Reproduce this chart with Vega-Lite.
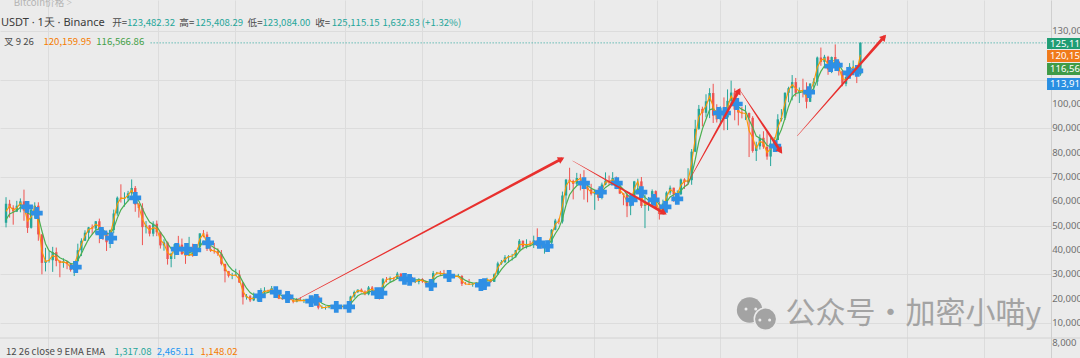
{
"$schema": "https://vega.github.io/schema/vega-lite/v6.json",
"width": 1051, "height": 358,
"autosize": {"type": "none"},
"padding": {"left": 0, "top": 0, "bottom": 0, "right": 29},
"background": "#ebebeb",
"config": {"view": {"stroke": null}, "font": "Noto Sans CJK SC", "axis": {"gridColor": "#dcdcdc", "gridWidth": 1}},
"resolve": {"scale": {"color": "independent", "size": "independent", "angle": "independent"}},
"datasets": {
"candles": [
{"d":"2021-03-11","o":51200,"h":61700,"l":49300,"c":59000,"e9":55900,"e26":52500},
{"d":"2021-03-18","o":59000,"h":60600,"l":53300,"c":57400,"e9":58000,"e26":54800},
{"d":"2021-03-25","o":57400,"h":58400,"l":50400,"c":55800,"e9":56400,"e26":55500},
{"d":"2021-04-01","o":55800,"h":60200,"l":55600,"c":58200,"e9":57200,"e26":56200},
{"d":"2021-04-08","o":58200,"h":61200,"l":55500,"c":60000,"e9":59300,"e26":57500},
{"d":"2021-04-15","o":60000,"h":64800,"l":52000,"c":56200,"e9":57700,"e26":57600},
{"d":"2021-04-22","o":56200,"h":57500,"l":47000,"c":49100,"e9":51900,"e26":55200},
{"d":"2021-04-29","o":49100,"h":58400,"l":48800,"c":56600,"e9":53600,"e26":54500},
{"d":"2021-05-06","o":56600,"h":59600,"l":53000,"c":58200,"e9":57600,"e26":55800},
{"d":"2021-05-13","o":58200,"h":59600,"l":43800,"c":46400,"e9":51100,"e26":53800},
{"d":"2021-05-20","o":46400,"h":46600,"l":30000,"c":34700,"e9":39400,"e26":47800},
{"d":"2021-05-27","o":34700,"h":40900,"l":31200,"c":35700,"e9":35300,"e26":42600},
{"d":"2021-06-03","o":35700,"h":39500,"l":34800,"c":35800,"e9":35800,"e26":39700},
{"d":"2021-06-10","o":35800,"h":41300,"l":31000,"c":39100,"e9":37800,"e26":38900},
{"d":"2021-06-17","o":39100,"h":41000,"l":33300,"c":35500,"e9":36900,"e26":38100},
{"d":"2021-06-24","o":35500,"h":35800,"l":28800,"c":34700,"e9":35000,"e26":36800},
{"d":"2021-07-01","o":34700,"h":36600,"l":32700,"c":35300,"e9":35100,"e26":36100},
{"d":"2021-07-08","o":35300,"h":35400,"l":32100,"c":34200,"e9":34600,"e26":35500},
{"d":"2021-07-15","o":34200,"h":34700,"l":31100,"c":31800,"e9":32800,"e26":34400},
{"d":"2021-07-22","o":31800,"h":34500,"l":29300,"c":35400,"e9":34000,"e26":34200},
{"d":"2021-07-29","o":35400,"h":42600,"l":35200,"c":39900,"e9":38100,"e26":35800},
{"d":"2021-08-05","o":39900,"h":44800,"l":37500,"c":43800,"e9":42200,"e26":38500},
{"d":"2021-08-12","o":43800,"h":48100,"l":43700,"c":47100,"e9":45800,"e26":41600},
{"d":"2021-08-19","o":47100,"h":49500,"l":43900,"c":49300,"e9":48400,"e26":44500},
{"d":"2021-08-26","o":49300,"h":50500,"l":46300,"c":48800,"e9":49000,"e26":46400},
{"d":"2021-09-02","o":48800,"h":51900,"l":46600,"c":51800,"e9":50600,"e26":48200},
{"d":"2021-09-09","o":51800,"h":52900,"l":42800,"c":48300,"e9":49700,"e26":48800},
{"d":"2021-09-16","o":48300,"h":48800,"l":44100,"c":47300,"e9":47700,"e26":48300},
{"d":"2021-09-23","o":47300,"h":47300,"l":39600,"c":43200,"e9":44800,"e26":46800},
{"d":"2021-09-30","o":43200,"h":48400,"l":40800,"c":48200,"e9":46200,"e26":46500},
{"d":"2021-10-07","o":48200,"h":56600,"l":46900,"c":55000,"e9":52300,"e26":48900},
{"d":"2021-10-14","o":55000,"h":62000,"l":54100,"c":61500,"e9":58900,"e26":53100},
{"d":"2021-10-21","o":61500,"h":67000,"l":59500,"c":61100,"e9":61300,"e26":56500},
{"d":"2021-10-28","o":61100,"h":63700,"l":57800,"c":61300,"e9":61200,"e26":58500},
{"d":"2021-11-04","o":61300,"h":64300,"l":60000,"c":63300,"e9":62500,"e26":60200},
{"d":"2021-11-11","o":63300,"h":69000,"l":62300,"c":65500,"e9":64600,"e26":62000},
{"d":"2021-11-18","o":65500,"h":66300,"l":55700,"c":58700,"e9":61400,"e26":61700},
{"d":"2021-11-25","o":58700,"h":59300,"l":53300,"c":57300,"e9":57900,"e26":60100},
{"d":"2021-12-02","o":57300,"h":59200,"l":42000,"c":49400,"e9":52600,"e26":57000},
{"d":"2021-12-09","o":49400,"h":51900,"l":46800,"c":50100,"e9":49800,"e26":54000},
{"d":"2021-12-16","o":50100,"h":50200,"l":45600,"c":46700,"e9":48100,"e26":51500},
{"d":"2021-12-23","o":46700,"h":51800,"l":45600,"c":50800,"e9":49200,"e26":50500},
{"d":"2021-12-30","o":50800,"h":52100,"l":45700,"c":47300,"e9":48700,"e26":49700},
{"d":"2022-01-06","o":47300,"h":47600,"l":40600,"c":41900,"e9":44100,"e26":47300},
{"d":"2022-01-13","o":41900,"h":44400,"l":39700,"c":43100,"e9":42600,"e26":45300},
{"d":"2022-01-20","o":43100,"h":43500,"l":34000,"c":36300,"e9":39000,"e26":42700},
{"d":"2022-01-27","o":36300,"h":38900,"l":32900,"c":38500,"e9":37600,"e26":40600},
{"d":"2022-02-03","o":38500,"h":42600,"l":36300,"c":42400,"e9":40800,"e26":40700},
{"d":"2022-02-10","o":42400,"h":45800,"l":41700,"c":42200,"e9":42300,"e26":41400},
{"d":"2022-02-17","o":42200,"h":44700,"l":38000,"c":38300,"e9":39900,"e26":40800},
{"d":"2022-02-24","o":38300,"h":39800,"l":34300,"c":37700,"e9":37900,"e26":39600},
{"d":"2022-03-03","o":37700,"h":45400,"l":37500,"c":38400,"e9":38100,"e26":39000},
{"d":"2022-03-10","o":38400,"h":42600,"l":37200,"c":37800,"e9":38000,"e26":38600},
{"d":"2022-03-17","o":37800,"h":42300,"l":37600,"c":41300,"e9":39900,"e26":39100},
{"d":"2022-03-24","o":41300,"h":46900,"l":40500,"c":46800,"e9":44600,"e26":41400},
{"d":"2022-03-31","o":46800,"h":48200,"l":45200,"c":46400,"e9":46600,"e26":43600},
{"d":"2022-04-07","o":46400,"h":47500,"l":39600,"c":40400,"e9":42800,"e26":43300},
{"d":"2022-04-14","o":40400,"h":41600,"l":39200,"c":39700,"e9":40000,"e26":41900},
{"d":"2022-04-21","o":39700,"h":42900,"l":38500,"c":39500,"e9":39600,"e26":40900},
{"d":"2022-04-28","o":39500,"h":40700,"l":37600,"c":38500,"e9":38900,"e26":40100},
{"d":"2022-05-05","o":38500,"h":40000,"l":33700,"c":34300,"e9":36000,"e26":38400},
{"d":"2022-05-12","o":34300,"h":34300,"l":26700,"c":31300,"e9":32500,"e26":35900},
{"d":"2022-05-19","o":31300,"h":31400,"l":28700,"c":29400,"e9":30200,"e26":33500},
{"d":"2022-05-26","o":29400,"h":30600,"l":28000,"c":29500,"e9":29500,"e26":31800},
{"d":"2022-06-02","o":29500,"h":32300,"l":29300,"c":29900,"e9":29700,"e26":30900},
{"d":"2022-06-09","o":29900,"h":31700,"l":26500,"c":26600,"e9":27900,"e26":29600},
{"d":"2022-06-16","o":26600,"h":26900,"l":17600,"c":20600,"e9":23000,"e26":26800},
{"d":"2022-06-23","o":20600,"h":21900,"l":19600,"c":21000,"e9":20800,"e26":24300},
{"d":"2022-06-30","o":21000,"h":21500,"l":18600,"c":19300,"e9":20000,"e26":22500},
{"d":"2022-07-07","o":19300,"h":22500,"l":19000,"c":20800,"e9":20200,"e26":21500},
{"d":"2022-07-14","o":20800,"h":21000,"l":18900,"c":20800,"e9":20800,"e26":21200},
{"d":"2022-07-21","o":20800,"h":24300,"l":20800,"c":22600,"e9":21900,"e26":21500},
{"d":"2022-07-28","o":22600,"h":24700,"l":20700,"c":23300,"e9":23000,"e26":22100},
{"d":"2022-08-04","o":23300,"h":23700,"l":22400,"c":23200,"e9":23200,"e26":22600},
{"d":"2022-08-11","o":23200,"h":25200,"l":22700,"c":24300,"e9":23900,"e26":23100},
{"d":"2022-08-18","o":24300,"h":24400,"l":20800,"c":21500,"e9":22600,"e26":22900},
{"d":"2022-08-25","o":21500,"h":21800,"l":19800,"c":20000,"e9":20600,"e26":21900},
{"d":"2022-09-01","o":20000,"h":20600,"l":19600,"c":19800,"e9":19900,"e26":21100},
{"d":"2022-09-08","o":19800,"h":22800,"l":18500,"c":21800,"e9":21000,"e26":21100},
{"d":"2022-09-15","o":21800,"h":22700,"l":19300,"c":19400,"e9":20400,"e26":20800},
{"d":"2022-09-22","o":19400,"h":19900,"l":18100,"c":18800,"e9":19000,"e26":20000},
{"d":"2022-09-29","o":18800,"h":20300,"l":18500,"c":19300,"e9":19100,"e26":19600},
{"d":"2022-10-06","o":19300,"h":20500,"l":19000,"c":19100,"e9":19200,"e26":19400},
{"d":"2022-10-13","o":19100,"h":19900,"l":18200,"c":19200,"e9":19200,"e26":19300},
{"d":"2022-10-20","o":19200,"h":19700,"l":18900,"c":19600,"e9":19400,"e26":19300},
{"d":"2022-10-27","o":19600,"h":21000,"l":19200,"c":20800,"e9":20300,"e26":19700},
{"d":"2022-11-03","o":20800,"h":21500,"l":20000,"c":21000,"e9":20900,"e26":20200},
{"d":"2022-11-10","o":21000,"h":21000,"l":15600,"c":16300,"e9":18200,"e26":19400},
{"d":"2022-11-17","o":16300,"h":17200,"l":15800,"c":16300,"e9":16300,"e26":18100},
{"d":"2022-11-24","o":16300,"h":16800,"l":15500,"c":16400,"e9":16400,"e26":17400},
{"d":"2022-12-01","o":16400,"h":17400,"l":16000,"c":17100,"e9":16800,"e26":17100},
{"d":"2022-12-08","o":17100,"h":17400,"l":16700,"c":17100,"e9":17100,"e26":17100},
{"d":"2022-12-15","o":17100,"h":18400,"l":16500,"c":16800,"e9":16900,"e26":17000},
{"d":"2022-12-22","o":16800,"h":16900,"l":16300,"c":16800,"e9":16800,"e26":16900},
{"d":"2022-12-29","o":16800,"h":16900,"l":16400,"c":16600,"e9":16700,"e26":16800},
{"d":"2023-01-05","o":16600,"h":17200,"l":16600,"c":17100,"e9":16900,"e26":16800},
{"d":"2023-01-12","o":17100,"h":21200,"l":17100,"c":20900,"e9":19400,"e26":17900},
{"d":"2023-01-19","o":20900,"h":23300,"l":20400,"c":22700,"e9":22000,"e26":19600},
{"d":"2023-01-26","o":22700,"h":23800,"l":22300,"c":23700,"e9":23300,"e26":21200},
{"d":"2023-02-02","o":23700,"h":24200,"l":22600,"c":22900,"e9":23200,"e26":22000},
{"d":"2023-02-09","o":22900,"h":23400,"l":21400,"c":21800,"e9":22200,"e26":22100},
{"d":"2023-02-16","o":21800,"h":25200,"l":21400,"c":24600,"e9":23500,"e26":22700},
{"d":"2023-02-23","o":24600,"h":25200,"l":22900,"c":23400,"e9":23900,"e26":23200},
{"d":"2023-03-02","o":23400,"h":23900,"l":21900,"c":22400,"e9":22800,"e26":23000},
{"d":"2023-03-09","o":22400,"h":22600,"l":19600,"c":22100,"e9":22200,"e26":22700},
{"d":"2023-03-16","o":22100,"h":28500,"l":21900,"c":28000,"e9":25600,"e26":23900},
{"d":"2023-03-23","o":28000,"h":28900,"l":26700,"c":27800,"e9":27900,"e26":25600},
{"d":"2023-03-30","o":27800,"h":29100,"l":26500,"c":28500,"e9":28200,"e26":26700},
{"d":"2023-04-06","o":28500,"h":28800,"l":27200,"c":28300,"e9":28400,"e26":27400},
{"d":"2023-04-13","o":28300,"h":31000,"l":28200,"c":30300,"e9":29500,"e26":28300},
{"d":"2023-04-20","o":30300,"h":30500,"l":27200,"c":27600,"e9":28700,"e26":28500},
{"d":"2023-04-27","o":27600,"h":30000,"l":26900,"c":28500,"e9":28100,"e26":28300},
{"d":"2023-05-04","o":28500,"h":29800,"l":27700,"c":28900,"e9":28700,"e26":28500},
{"d":"2023-05-11","o":28900,"h":29100,"l":26100,"c":26900,"e9":27700,"e26":28200},
{"d":"2023-05-18","o":26900,"h":27500,"l":26400,"c":26900,"e9":26900,"e26":27700},
{"d":"2023-05-25","o":26900,"h":28400,"l":25900,"c":28100,"e9":27600,"e26":27700},
{"d":"2023-06-01","o":28100,"h":28400,"l":26500,"c":27100,"e9":27500,"e26":27600},
{"d":"2023-06-08","o":27100,"h":27400,"l":25400,"c":25900,"e9":26400,"e26":27100},
{"d":"2023-06-15","o":25900,"h":26800,"l":24800,"c":26300,"e9":26100,"e26":26700},
{"d":"2023-06-22","o":26300,"h":31400,"l":26200,"c":30500,"e9":28800,"e26":27600},
{"d":"2023-06-29","o":30500,"h":31000,"l":29900,"c":30600,"e9":30600,"e26":28900},
{"d":"2023-07-06","o":30600,"h":31400,"l":29700,"c":30300,"e9":30400,"e26":29500},
{"d":"2023-07-13","o":30300,"h":31800,"l":30000,"c":30200,"e9":30200,"e26":29800},
{"d":"2023-07-20","o":30200,"h":30400,"l":29600,"c":29800,"e9":30000,"e26":29900},
{"d":"2023-07-27","o":29800,"h":29900,"l":28900,"c":29300,"e9":29500,"e26":29700},
{"d":"2023-08-03","o":29300,"h":30000,"l":28700,"c":29000,"e9":29100,"e26":29400},
{"d":"2023-08-10","o":29000,"h":30200,"l":28700,"c":29300,"e9":29200,"e26":29300},
{"d":"2023-08-17","o":29300,"h":29700,"l":25200,"c":26100,"e9":27400,"e26":28500},
{"d":"2023-08-24","o":26100,"h":26800,"l":25800,"c":26000,"e9":26000,"e26":27500},
{"d":"2023-08-31","o":26000,"h":28100,"l":25600,"c":25800,"e9":25900,"e26":26800},
{"d":"2023-09-07","o":25800,"h":26400,"l":24900,"c":26100,"e9":26000,"e26":26500},
{"d":"2023-09-14","o":26100,"h":26800,"l":24900,"c":26500,"e9":26300,"e26":26400},
{"d":"2023-09-21","o":26500,"h":27500,"l":26000,"c":26300,"e9":26400,"e26":26400},
{"d":"2023-09-28","o":26300,"h":28000,"l":26000,"c":27900,"e9":27300,"e26":26800},
{"d":"2023-10-05","o":27900,"h":28600,"l":27200,"c":27900,"e9":27900,"e26":27300},
{"d":"2023-10-12","o":27900,"h":28000,"l":26500,"c":26900,"e9":27300,"e26":27300},
{"d":"2023-10-19","o":26900,"h":30400,"l":26900,"c":30000,"e9":28800,"e26":27900},
{"d":"2023-10-26","o":30000,"h":35200,"l":29900,"c":34500,"e9":32700,"e26":29900},
{"d":"2023-11-02","o":34500,"h":35900,"l":33900,"c":35000,"e9":34800,"e26":32000},
{"d":"2023-11-09","o":35000,"h":37900,"l":34600,"c":37000,"e9":36200,"e26":33800},
{"d":"2023-11-16","o":37000,"h":37900,"l":34800,"c":37400,"e9":37200,"e26":35200},
{"d":"2023-11-23","o":37400,"h":38400,"l":35700,"c":37500,"e9":37500,"e26":36200},
{"d":"2023-11-30","o":37500,"h":40000,"l":36800,"c":39900,"e9":38900,"e26":37300},
{"d":"2023-12-07","o":39900,"h":44500,"l":39900,"c":43800,"e9":42200,"e26":39400},
{"d":"2023-12-14","o":43800,"h":43900,"l":40200,"c":41400,"e9":42400,"e26":40700},
{"d":"2023-12-21","o":41400,"h":44400,"l":40600,"c":42500,"e9":42100,"e26":41300},
{"d":"2023-12-28","o":42500,"h":43800,"l":41400,"c":42300,"e9":42400,"e26":41800},
{"d":"2024-01-04","o":42300,"h":45900,"l":40800,"c":43900,"e9":43300,"e26":42400},
{"d":"2024-01-11","o":43900,"h":48900,"l":41600,"c":41700,"e9":42600,"e26":42500},
{"d":"2024-01-18","o":41700,"h":43600,"l":40700,"c":41600,"e9":41600,"e26":42100},
{"d":"2024-01-25","o":41600,"h":42200,"l":38500,"c":42000,"e9":41800,"e26":42000},
{"d":"2024-02-01","o":42000,"h":43900,"l":41800,"c":43000,"e9":42600,"e26":42300},
{"d":"2024-02-08","o":43000,"h":48600,"l":42200,"c":48300,"e9":46200,"e26":43900},
{"d":"2024-02-15","o":48300,"h":52800,"l":48100,"c":52100,"e9":50600,"e26":46700},
{"d":"2024-02-22","o":52100,"h":52900,"l":50600,"c":51700,"e9":51900,"e26":48900},
{"d":"2024-02-29","o":51700,"h":64000,"l":50900,"c":62400,"e9":58100,"e26":52800},
{"d":"2024-03-07","o":62400,"h":69200,"l":59000,"c":68900,"e9":66300,"e26":58500},
{"d":"2024-03-14","o":68900,"h":73800,"l":64600,"c":68400,"e9":68600,"e26":62700},
{"d":"2024-03-21","o":68400,"h":68900,"l":60800,"c":67200,"e9":67700,"e26":64800},
{"d":"2024-03-28","o":67200,"h":71700,"l":66500,"c":69600,"e9":68600,"e26":66400},
{"d":"2024-04-04","o":69600,"h":71300,"l":64500,"c":69400,"e9":69500,"e26":67700},
{"d":"2024-04-11","o":69400,"h":72800,"l":60700,"c":65700,"e9":67200,"e26":67500},
{"d":"2024-04-18","o":65700,"h":66900,"l":59600,"c":64900,"e9":65200,"e26":66500},
{"d":"2024-04-25","o":64900,"h":67200,"l":62400,"c":63100,"e9":63800,"e26":65400},
{"d":"2024-05-02","o":63100,"h":64700,"l":56500,"c":64000,"e9":63600,"e26":64600},
{"d":"2024-05-09","o":64000,"h":65500,"l":60200,"c":61500,"e9":62500,"e26":63700},
{"d":"2024-05-16","o":61500,"h":67700,"l":60800,"c":66900,"e9":64700,"e26":64100},
{"d":"2024-05-23","o":66900,"h":71900,"l":66600,"c":68500,"e9":67900,"e26":65700},
{"d":"2024-05-30","o":68500,"h":70600,"l":66700,"c":67800,"e9":68100,"e26":66700},
{"d":"2024-06-06","o":67800,"h":72000,"l":67600,"c":69600,"e9":68900,"e26":67600},
{"d":"2024-06-13","o":69600,"h":70200,"l":65000,"c":66600,"e9":67800,"e26":67700},
{"d":"2024-06-20","o":66600,"h":67300,"l":63000,"c":63200,"e9":64600,"e26":66400},
{"d":"2024-06-27","o":63200,"h":63300,"l":58400,"c":62700,"e9":62900,"e26":64900},
{"d":"2024-07-04","o":62700,"h":63800,"l":53500,"c":58000,"e9":59900,"e26":62800},
{"d":"2024-07-11","o":58000,"h":61400,"l":54300,"c":60800,"e9":59700,"e26":61500},
{"d":"2024-07-18","o":60800,"h":68400,"l":60600,"c":68200,"e9":65200,"e26":63100},
{"d":"2024-07-25","o":68200,"h":69300,"l":63500,"c":68200,"e9":68200,"e26":65200},
{"d":"2024-08-01","o":68200,"h":70000,"l":57300,"c":58100,"e9":62100,"e26":63900},
{"d":"2024-08-08","o":58100,"h":62700,"l":49000,"c":58700,"e9":58500,"e26":61600},
{"d":"2024-08-15","o":58700,"h":61800,"l":56100,"c":58900,"e9":58800,"e26":60400},
{"d":"2024-08-22","o":58900,"h":64900,"l":57900,"c":64200,"e9":62100,"e26":61100},
{"d":"2024-08-29","o":64200,"h":64500,"l":57200,"c":57300,"e9":60100,"e26":60700},
{"d":"2024-09-05","o":57300,"h":59800,"l":52500,"c":54800,"e9":55800,"e26":58600},
{"d":"2024-09-12","o":54800,"h":60700,"l":54600,"c":59100,"e9":57400,"e26":58100},
{"d":"2024-09-19","o":59100,"h":64100,"l":57500,"c":63600,"e9":61800,"e26":59700},
{"d":"2024-09-26","o":63600,"h":66500,"l":62700,"c":65600,"e9":64800,"e26":61800},
{"d":"2024-10-03","o":65600,"h":65600,"l":59800,"c":62800,"e9":63900,"e26":62700},
{"d":"2024-10-10","o":62800,"h":64500,"l":58900,"c":62900,"e9":62900,"e26":62800},
{"d":"2024-10-17","o":62900,"h":69400,"l":62500,"c":69000,"e9":66600,"e26":64400},
{"d":"2024-10-24","o":69000,"h":69500,"l":65100,"c":67900,"e9":68300,"e26":66000},
{"d":"2024-10-31","o":67900,"h":73600,"l":67500,"c":68700,"e9":68400,"e26":67000},
{"d":"2024-11-07","o":68700,"h":81500,"l":66800,"c":80400,"e9":75700,"e26":70700},
{"d":"2024-11-14","o":80400,"h":93500,"l":80200,"c":89800,"e9":86000,"e26":77100},
{"d":"2024-11-21","o":89800,"h":99600,"l":89400,"c":98000,"e9":94700,"e26":84500},
{"d":"2024-11-28","o":98000,"h":98900,"l":90800,"c":96400,"e9":97000,"e26":89800},
{"d":"2024-12-05","o":96400,"h":104000,"l":94500,"c":101100,"e9":99200,"e26":93700},
{"d":"2024-12-12","o":101100,"h":106500,"l":94200,"c":104500,"e9":103100,"e26":97600},
{"d":"2024-12-19","o":104500,"h":108300,"l":92200,"c":95200,"e9":98900,"e26":98100},
{"d":"2024-12-26","o":95200,"h":99900,"l":92400,"c":93700,"e9":94300,"e26":96500},
{"d":"2025-01-02","o":93700,"h":99000,"l":91300,"c":98300,"e9":96500,"e26":96500},
{"d":"2025-01-09","o":98300,"h":102700,"l":89200,"c":94500,"e9":96000,"e26":96300},
{"d":"2025-01-16","o":94500,"h":106000,"l":89300,"c":101300,"e9":98600,"e26":97300},
{"d":"2025-01-23","o":101300,"h":109600,"l":99500,"c":104700,"e9":103300,"e26":99800},
{"d":"2025-01-30","o":104700,"h":106400,"l":93300,"c":97700,"e9":100500,"e26":100100},
{"d":"2025-02-06","o":97700,"h":102500,"l":91200,"c":96500,"e9":97000,"e26":98800},
{"d":"2025-02-13","o":96500,"h":98800,"l":94100,"c":96100,"e9":96300,"e26":97800},
{"d":"2025-02-20","o":96100,"h":99500,"l":93400,"c":96300,"e9":96200,"e26":97100},
{"d":"2025-02-27","o":96300,"h":96500,"l":78200,"c":94300,"e9":89000,"e26":93500},
{"d":"2025-03-06","o":94300,"h":95000,"l":80000,"c":80700,"e9":86100,"e26":90400},
{"d":"2025-03-13","o":80700,"h":84500,"l":76600,"c":82600,"e9":81800,"e26":86800},
{"d":"2025-03-20","o":82600,"h":87500,"l":81300,"c":86100,"e9":84700,"e26":85900},
{"d":"2025-03-27","o":86100,"h":88800,"l":81600,"c":82400,"e9":83900,"e26":85100},
{"d":"2025-04-03","o":82400,"h":88500,"l":77100,"c":78400,"e9":80000,"e26":83000},
{"d":"2025-04-10","o":78400,"h":86100,"l":74500,"c":83700,"e9":81600,"e26":82400},
{"d":"2025-04-17","o":83700,"h":86400,"l":83100,"c":85200,"e9":84600,"e26":83300},
{"d":"2025-04-24","o":85200,"h":95800,"l":85100,"c":93700,"e9":90300,"e26":86200},
{"d":"2025-05-01","o":93700,"h":97900,"l":92800,"c":94300,"e9":94100,"e26":89500},
{"d":"2025-05-08","o":94300,"h":104800,"l":93400,"c":104600,"e9":100500,"e26":94100},
{"d":"2025-05-15","o":104600,"h":107100,"l":100700,"c":106500,"e9":105700,"e26":99000},
{"d":"2025-05-22","o":106500,"h":111900,"l":101500,"c":109000,"e9":108000,"e26":102800},
{"d":"2025-05-29","o":109000,"h":110700,"l":103100,"c":104600,"e9":106400,"e26":104300},
{"d":"2025-06-05","o":104600,"h":106800,"l":100400,"c":105700,"e9":105300,"e26":104700},
{"d":"2025-06-12","o":105700,"h":110400,"l":102700,"c":105600,"e9":105600,"e26":105100},
{"d":"2025-06-19","o":105600,"h":108900,"l":98200,"c":100900,"e9":102800,"e26":104100},
{"d":"2025-06-26","o":100900,"h":108500,"l":100800,"c":108400,"e9":105400,"e26":104600},
{"d":"2025-07-03","o":108400,"h":110600,"l":105100,"c":109200,"e9":108900,"e26":106400},
{"d":"2025-07-10","o":109200,"h":119500,"l":107500,"c":119100,"e9":115100,"e26":110100},
{"d":"2025-07-17","o":119100,"h":123200,"l":115700,"c":117300,"e9":118000,"e26":113400},
{"d":"2025-07-24","o":117300,"h":120200,"l":114700,"c":119400,"e9":118600,"e26":115600},
{"d":"2025-07-31","o":119400,"h":119800,"l":112000,"c":114200,"e9":116300,"e26":115900},
{"d":"2025-08-07","o":114200,"h":119500,"l":112700,"c":119300,"e9":117300,"e26":116500},
{"d":"2025-08-14","o":119300,"h":124500,"l":116800,"c":117400,"e9":118200,"e26":117200},
{"d":"2025-08-21","o":117400,"h":117600,"l":111700,"c":113500,"e9":115100,"e26":116300},
{"d":"2025-08-28","o":113500,"h":113700,"l":107300,"c":108300,"e9":110400,"e26":113800},
{"d":"2025-09-04","o":108300,"h":113400,"l":107300,"c":111100,"e9":110000,"e26":112200},
{"d":"2025-09-11","o":111100,"h":116800,"l":110600,"c":115300,"e9":113600,"e26":112800},
{"d":"2025-09-18","o":115300,"h":117900,"l":114400,"c":115300,"e9":115300,"e26":113900},
{"d":"2025-09-25","o":115300,"h":115500,"l":108600,"c":112200,"e9":113400,"e26":113700},
{"d":"2025-10-02","o":112200,"h":125400,"l":111600,"c":125100,"e9":120200,"e26":116600}
],
"crosses": [
{"d":"2021-04-21","v":57700},{"d":"2021-05-10","v":55200},{"d":"2021-07-25","v":33000},{"d":"2021-09-13","v":47000},
{"d":"2021-10-02","v":44900},{"d":"2021-11-18","v":61400},{"d":"2022-02-07","v":40400},{"d":"2022-02-26","v":40400},
{"d":"2022-03-15","v":40000},{"d":"2022-04-09","v":42900},{"d":"2022-07-19","v":21100},{"d":"2022-08-19","v":22700},
{"d":"2022-09-11","v":20700},{"d":"2022-10-27","v":19000},{"d":"2022-11-06","v":19500},{"d":"2022-12-15","v":16600},
{"d":"2023-01-09","v":16600},{"d":"2023-03-04","v":22300},{"d":"2023-03-13","v":22300},{"d":"2023-04-27","v":28100},
{"d":"2023-05-07","v":27700},{"d":"2023-06-18","v":25600},{"d":"2023-07-23","v":29300},{"d":"2023-09-23","v":25600},
{"d":"2023-09-30","v":26000},{"d":"2024-01-15","v":42900},{"d":"2024-01-31","v":41600},{"d":"2024-04-11","v":67500},
{"d":"2024-05-14","v":63800},{"d":"2024-06-14","v":67500},{"d":"2024-07-13","v":60600},{"d":"2024-08-01","v":63800},
{"d":"2024-08-25","v":60600},{"d":"2024-09-17","v":57700},{"d":"2024-10-10","v":61000},{"d":"2024-12-30","v":96300},
{"d":"2025-01-11","v":96300},{"d":"2025-02-03","v":100000},{"d":"2025-04-19","v":82700},{"d":"2025-06-24","v":104900},
{"d":"2025-08-05","v":115600},{"d":"2025-08-17","v":116000},{"d":"2025-09-09","v":112800},{"d":"2025-09-26","v":113600}
],
"arrows": [
{"id":1,"pt":0,"d":"2022-09-28","v":19450},{"id":1,"pt":1,"d":"2024-02-27","v":77400},
{"id":2,"pt":0,"d":"2024-03-20","v":76600},{"id":2,"pt":1,"d":"2024-09-14","v":55200},
{"id":3,"pt":0,"d":"2024-10-27","v":66300},{"id":3,"pt":1,"d":"2025-02-07","v":105400},
{"id":4,"pt":0,"d":"2025-02-10","v":105400},{"id":4,"pt":1,"d":"2025-04-29","v":80700},
{"id":5,"pt":0,"d":"2025-06-01","v":86900},{"id":5,"pt":1,"d":"2025-11-17","v":127500}
],
"heads": [
{"d":"2024-02-27","v":77400,"dir":63},
{"d":"2024-09-14","v":55200,"dir":120},
{"d":"2025-02-07","v":105400,"dir":29},
{"d":"2025-04-29","v":80700,"dir":146},
{"d":"2025-11-17","v":127500,"dir":41}
],
"texts": [
{"d":"2021-03-26","v":141510,"s":"Bitcoin价格 ˃","role":"dim"},
{"d":"2021-03-01","v":133290,"s":"USDT · 1天 · Binance","role":"sym"},
{"d":"2021-10-04","v":133290,"s":"开=","role":"key"},
{"d":"2021-11-02","v":133290,"s":"123,482.32","role":"ohlc"},
{"d":"2022-02-12","v":133290,"s":"高=","role":"key"},
{"d":"2022-03-15","v":133290,"s":"125,408.29","role":"ohlc"},
{"d":"2022-06-25","v":133290,"s":"低=","role":"key"},
{"d":"2022-07-24","v":133290,"s":"123,084.00","role":"ohlc"},
{"d":"2022-11-04","v":133290,"s":"收=","role":"key"},
{"d":"2022-12-06","v":133290,"s":"125,115.15","role":"ohlc"},
{"d":"2023-03-15","v":133290,"s":"1,632.83 (+1.32%)","role":"ohlc"},
{"d":"2021-03-07","v":125480,"s":"叉 9 26","role":"key"},
{"d":"2021-05-23","v":125480,"s":"120,159.95","role":"ema9"},
{"d":"2021-09-03","v":125480,"s":"116,566.86","role":"ema26"},
{"d":"2021-03-11","v":-1918,"s":"12 26 close 9 EMA EMA","role":"key"},
{"d":"2021-10-08","v":-1918,"s":"1,317.08","role":"ohlc"},
{"d":"2021-12-30","v":-1918,"s":"2,465.11","role":"signal"},
{"d":"2022-03-25","v":-1918,"s":"1,148.02","role":"ema9"},
{"d":"2025-05-09","v":13900,"s":"公众号·加密小喵y","role":"mark"}
],
"priceScale": [
{"v":8000,"at":1780},{"v":10000,"at":10000},{"v":20000,"at":20000},{"v":30000,"at":30000},{"v":40000,"at":40000},
{"v":50000,"at":50000},{"v":60000,"at":60000},{"v":70000,"at":70000},{"v":80000,"at":80000},
{"v":90000,"at":90000},{"v":100000,"at":100000},{"v":130000,"at":130000}
],
"icon": [
{"d":"2025-02-28","v":15340,"part":"big"},
{"d":"2025-03-31","v":11640,"part":"small"},
{"d":"2025-02-21","v":15750,"part":"eye"},
{"d":"2025-03-12","v":15750,"part":"eye"},
{"d":"2025-03-20","v":11230,"part":"eye"},
{"d":"2025-04-08","v":11230,"part":"eye"}
],
"tags": [
{"s":"125,115.15","lo":122600,"hi":127100,"mid":124860,"kind":"price"},
{"s":"120,159.95","lo":117300,"hi":122200,"mid":119730,"kind":"ema9"},
{"s":"116,566.86","lo":111900,"hi":116800,"mid":114380,"kind":"ema26"},
{"s":"113,912.60","lo":105800,"hi":110700,"mid":108220,"kind":"other"}
]
},
"layer": [
{
"data": {"name": "candles"},
"mark": {"type": "rule", "strokeWidth": 1},
"encoding": {
"x": {"field": "d", "type": "temporal", "title": null,
"scale": {"type": "utc", "domain": [1615248000000, 1790640000000]},
"axis": {"values": [1622505600000, 1640995200000, 1654041600000, 1672531200000, 1685577600000, 1704067200000, 1714521600000, 1725148800000, 1735689600000, 1748736000000, 1767225600000, 1780272000000], "labels": false, "ticks": false, "domain": false, "grid": true, "title": null}},
"y": {"field": "l", "type": "quantitative", "title": null,
"scale": {"domain": [-4384, 142740], "nice": false, "zero": false},
"axis": {"orient": "right", "values": [10000, 20000, 30000, 40000, 50000, 60000, 70000, 80000, 90000, 100000, 110000, 120000, 130000], "labels": false, "title": null, "grid": true, "ticks": false, "domainColor": "#cfcfcf"}},
"y2": {"field": "h"},
"color": {"condition": {"test": "datum.c >= datum.o", "value": "#26a69a"}, "value": "#ef5350"}
}
},
{
"data": {"name": "candles"},
"mark": {"type": "bar", "size": 2.4},
"encoding": {
"x": {"field": "d", "type": "temporal"},
"y": {"field": "o", "type": "quantitative"},
"y2": {"field": "c"},
"color": {"condition": {"test": "datum.c >= datum.o", "value": "#26a69a"}, "value": "#ef5350"}
}
},
{
"data": {"name": "candles"},
"mark": {"type": "line", "color": "#4caf50", "strokeWidth": 1.2},
"encoding": {"x": {"field": "d", "type": "temporal"}, "y": {"field": "e26", "type": "quantitative"}}
},
{
"data": {"name": "candles"},
"mark": {"type": "line", "color": "#ff9800", "strokeWidth": 1.1},
"encoding": {"x": {"field": "d", "type": "temporal"}, "y": {"field": "e9", "type": "quantitative"}}
},
{
"data": {"values": [{}]},
"mark": {"type": "rule", "color": "#26a69a", "strokeDash": [1, 2], "strokeWidth": 1},
"encoding": {"x": {"datum": 1639785600000, "type": "temporal"}, "x2": {"datum": 1790640000000}, "y": {"datum": 125115, "type": "quantitative"}}
},
{
"data": {"values": [{}]},
"mark": {"type": "rule", "color": "#d2d2d2", "strokeWidth": 1},
"encoding": {"x": {"datum": 1609459200000, "type": "temporal"}, "x2": {"datum": 1798761600000}, "y": {"datum": 3835, "type": "quantitative"}}
},
{
"data": {"name": "crosses"},
"mark": {"type": "point", "shape": "cross", "filled": true, "color": "#2f8fe5", "size": 140, "opacity": 1},
"encoding": {"x": {"field": "d", "type": "temporal"}, "y": {"field": "v", "type": "quantitative"}}
},
{
"data": {"name": "arrows"},
"mark": {"type": "trail", "color": "#e8302e"},
"encoding": {
"x": {"field": "d", "type": "temporal"},
"y": {"field": "v", "type": "quantitative"},
"detail": {"field": "id", "type": "nominal"},
"size": {"field": "pt", "type": "quantitative", "scale": {"domain": [0, 1], "range": [0.4, 3]}, "legend": null}
}
},
{
"data": {"name": "heads"},
"mark": {"type": "point", "shape": "triangle-up", "filled": true, "color": "#e8302e", "size": 55, "opacity": 1},
"encoding": {
"x": {"field": "d", "type": "temporal"},
"y": {"field": "v", "type": "quantitative"},
"angle": {"field": "dir", "type": "quantitative", "scale": null}
}
},
{
"data": {"name": "icon"},
"transform": [{"filter": "datum.part === 'big'"}],
"mark": {"type": "point", "filled": true, "shape": "circle", "opacity": 1, "color": "#a3a3a3", "size": 650},
"encoding": {"x": {"field": "d", "type": "temporal"}, "y": {"field": "v", "type": "quantitative"}}
},
{
"data": {"name": "icon"},
"transform": [{"filter": "datum.part === 'small'"}],
"mark": {"type": "point", "filled": true, "shape": "circle", "opacity": 1, "color": "#a3a3a3", "size": 500, "stroke": "#ebebeb", "strokeWidth": 1.5},
"encoding": {"x": {"field": "d", "type": "temporal"}, "y": {"field": "v", "type": "quantitative"}}
},
{
"data": {"name": "icon"},
"transform": [{"filter": "datum.part === 'eye'"}],
"mark": {"type": "point", "filled": true, "shape": "circle", "opacity": 1, "color": "#ebebeb", "size": 9},
"encoding": {"x": {"field": "d", "type": "temporal"}, "y": {"field": "v", "type": "quantitative"}}
},
{
"data": {"name": "texts"},
"transform": [{"filter": "indexof(['dim','key','ohlc','ema9','ema26','signal'], datum.role) >= 0"}],
"mark": {"type": "text", "align": "left", "baseline": "middle", "font": "Noto Sans CJK SC", "fontSize": 9.6},
"encoding": {
"x": {"field": "d", "type": "temporal"},
"y": {"field": "v", "type": "quantitative"},
"text": {"field": "s"},
"color": {"field": "role", "type": "nominal", "legend": null,
"scale": {"domain": ["dim", "key", "ohlc", "ema9", "ema26", "signal"],
"range": ["#b3b3b3", "#4a4a4a", "#26a69a", "#f57c00", "#43a047", "#2196f3"]}}
}
},
{
"data": {"name": "texts"},
"transform": [{"filter": "datum.role === 'sym'"}],
"mark": {"type": "text", "align": "left", "baseline": "middle", "font": "Noto Sans", "fontSize": 11, "color": "#3a3a3a"},
"encoding": {"x": {"field": "d", "type": "temporal"}, "y": {"field": "v", "type": "quantitative"}, "text": {"field": "s"}}
},
{
"data": {"name": "texts"},
"transform": [{"filter": "datum.role === 'mark'"}],
"mark": {"type": "text", "align": "left", "baseline": "middle", "font": "Noto Sans CJK SC", "fontSize": 30, "color": "#a3a3a3"},
"encoding": {"x": {"field": "d", "type": "temporal"}, "y": {"field": "v", "type": "quantitative"}, "text": {"field": "s"}}
},
{
"data": {"name": "priceScale"},
"mark": {"type": "text", "align": "left", "baseline": "middle", "font": "Noto Sans", "fontSize": 9.5, "color": "#6f6f6f"},
"encoding": {
"x": {"datum": 1791676800000, "type": "temporal"},
"y": {"field": "at", "type": "quantitative"},
"text": {"field": "v", "type": "quantitative", "format": ",d"}
}
},
{
"data": {"name": "tags"},
"mark": {"type": "rect"},
"encoding": {
"x": {"datum": 1790812800000, "type": "temporal"},
"x2": {"datum": 1798761600000},
"y": {"field": "lo", "type": "quantitative"},
"y2": {"field": "hi"},
"color": {"field": "kind", "type": "nominal", "legend": null,
"scale": {"domain": ["price", "ema9", "ema26", "other"], "range": ["#1f9d74", "#f07a1a", "#3f9b47", "#2a8fe2"]}}
}
},
{
"data": {"name": "tags"},
"mark": {"type": "text", "align": "left", "baseline": "middle", "color": "#ffffff", "fontSize": 9.5, "font": "Noto Sans"},
"encoding": {
"x": {"datum": 1791331200000, "type": "temporal"},
"y": {"field": "mid", "type": "quantitative"},
"text": {"field": "s"}
}
}
]
}
